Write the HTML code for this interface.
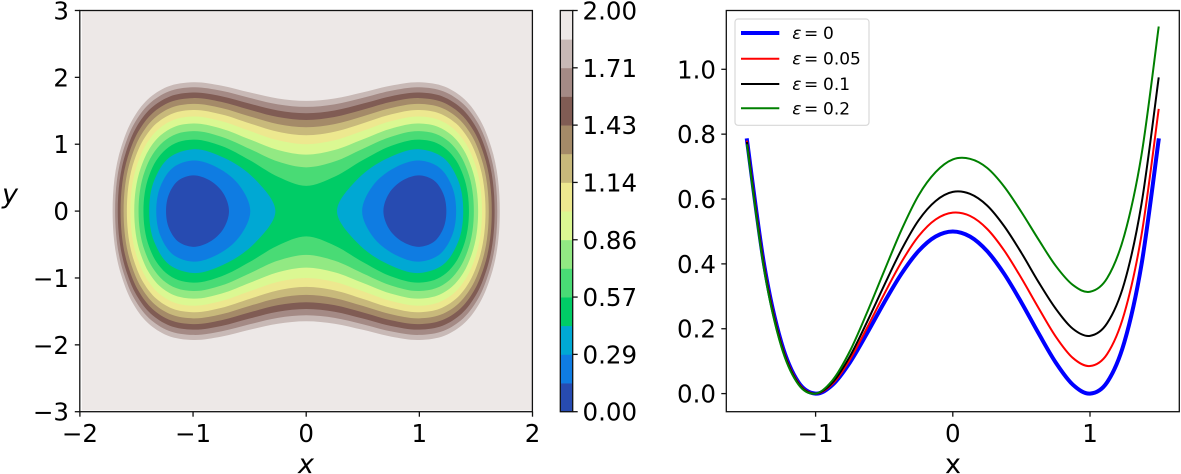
<!DOCTYPE html>
<html lang="en">
<head>
<meta charset="utf-8">
<title>Double-well potential contour and tilted profiles</title>
<style>
html,body{margin:0;padding:0;background:#fff;width:1181px;height:474px;overflow:hidden}
svg{display:block}
text{font-family:"DejaVu Sans","Liberation Sans",sans-serif;fill:#000}
</style>
</head>
<body>
<svg id="fig" xmlns="http://www.w3.org/2000/svg" width="1181" height="474" viewBox="0 0 1181 474">
  <defs>
    <clipPath id="contour-clip"><rect x="81.8" y="10.5" width="450" height="400"/></clipPath>
  </defs>
  <g id="contour-panel">
    <g id="contour-bands" clip-path="url(#contour-clip)"></g>
    <g id="left-ticks"></g>
    <rect x="79.8" y="10.5" width="452.6" height="401.2" fill="none" stroke="#111" stroke-width="1.3"/>
    <text x="306" y="473" font-size="27" font-style="italic" text-anchor="middle">x</text>
    <text x="10" y="203" font-size="27" font-style="italic" text-anchor="middle">y</text>
  </g>
  <g id="colorbar"></g>
  <g id="line-panel">
    <g id="line-series"></g>
    <g id="right-ticks"></g>
    <rect x="726.3" y="10.5" width="453" height="401.2" fill="none" stroke="#111" stroke-width="1.3"/>
    <text x="953" y="473" font-size="27" text-anchor="middle">x</text>
    <g id="legend">
      <rect x="735" y="19" width="134" height="106.3" rx="3" fill="#fff" fill-opacity="0.8" stroke="#d8d8d8" stroke-width="1.2"/>
      <g>
        <line x1="741" x2="779.3" y1="33" y2="33" stroke="#0000ff" stroke-width="4"/>
        <text x="792.3" y="39" font-size="17"><tspan font-style="italic">ε</tspan><tspan x="804">=</tspan><tspan x="823">0</tspan></text>
      </g>
      <g>
        <line x1="741" x2="779.3" y1="58.7" y2="58.7" stroke="#ff0000" stroke-width="2"/>
        <text x="792.3" y="64.7" font-size="17"><tspan font-style="italic">ε</tspan><tspan x="804">=</tspan><tspan x="823">0.05</tspan></text>
      </g>
      <g>
        <line x1="741" x2="779.3" y1="84" y2="84" stroke="#000" stroke-width="2"/>
        <text x="792.3" y="90" font-size="17"><tspan font-style="italic">ε</tspan><tspan x="804">=</tspan><tspan x="823">0.1</tspan></text>
      </g>
      <g>
        <line x1="741" x2="779.3" y1="108.3" y2="108.3" stroke="#008000" stroke-width="2"/>
        <text x="792.3" y="114.3" font-size="17"><tspan font-style="italic">ε</tspan><tspan x="804">=</tspan><tspan x="823">0.2</tspan></text>
      </g>
    </g>
  </g>
</svg>
<script>
// ---------- chart data ----------
const contourLevels = [0, 0.1429, 0.2857, 0.4286, 0.5714, 0.7143, 0.8571, 1, 1.1429, 1.2857, 1.4286, 1.5714, 1.7143, 1.8571, 2];
// Upper boundaries of the level sets in data units (right half, first quadrant).
// Island levels trace the right well; joined levels run from the x axis to the y axis.
const boundary1 = [[1.2387,0],[1.2095,0.2673],[1.1257,0.4629],[1,0.5345],[0.856,0.4629],[0.7329,0.2673],[0.6823,0]];
const boundary2 = [[1.3251,0],[1.2863,0.378],[1.1739,0.6546],[1,0.7559],[0.7887,0.6546],[0.5877,0.378],[0.4941,0]];
const boundary3 = [[1.3877,0],[1.3423,0.4629],[1.2095,0.8018],[1,0.9258],[0.7329,0.8018],[0.4452,0.4629],[0.2724,0]];
const boundary4 = [[1.4384,0],[1.3877,0.5345],[1.3251,0.7559],[1.2387,0.9258],[1.1299,1.0325],[1,1.069],[0.75,0.9754],[0.5,0.7618],[0.25,0.5138],[0,0.378]];
const boundary5 = [[1.4816,0],[1.4266,0.5976],[1.3583,0.8451],[1.264,1.0351],[1.1443,1.1545],[1,1.1952],[0.75,1.1123],[0.5,0.9306],[0.25,0.7414],[0,0.6547]];
const boundary6 = [[1.5196,0],[1.4608,0.6547],[1.3877,0.9258],[1.2864,1.1339],[1.1571,1.2647],[1,1.3093],[0.75,1.2341],[0.5,1.0732],[0.25,0.914],[0,0.8452]];
const boundary7 = [[1.5538,0],[1.4916,0.7071],[1.4142,1],[1.3066,1.2247],[1.1688,1.366],[1,1.4142],[0.75,1.3448],[0.5,1.199],[0.25,1.0588],[0,1]];
const boundary8 = [[1.5849,0],[1.5196,0.7559],[1.4384,1.0691],[1.3251,1.3093],[1.1795,1.4604],[1,1.5119],[0.75,1.4472],[0.5,1.3127],[0.25,1.1861],[0,1.1339]];
const boundary9 = [[1.6136,0],[1.5455,0.8018],[1.4608,1.1339],[1.3423,1.3887],[1.1895,1.5489],[1,1.6036],[0.75,1.5427],[0.5,1.4174],[0.25,1.301],[0,1.2536]];
const boundary10 = [[1.6402,0],[1.5697,0.8452],[1.4816,1.1952],[1.3584,1.4638],[1.199,1.6327],[1,1.6903],[0.75,1.6327],[0.5,1.5148],[0.25,1.4065],[0,1.3628]];
const boundary11 = [[1.6652,0],[1.5923,0.8864],[1.5012,1.2536],[1.3735,1.5353],[1.2078,1.7124],[1,1.7728],[0.75,1.718],[0.5,1.6064],[0.25,1.5047],[0,1.4639]];
const boundary12 = [[1.6887,0],[1.6135,0.9258],[1.5196,1.3093],[1.3877,1.6035],[1.2162,1.7885],[1,1.8516],[0.75,1.7992],[0.5,1.693],[0.25,1.5968],[0,1.5584]];
const boundary13 = [[1.7109,0],[1.6337,0.9636],[1.5371,1.3627],[1.4013,1.669],[1.2243,1.8615],[1,1.9272],[0.75,1.877],[0.5,1.7753],[0.25,1.6839],[0,1.6475]];
const islandBoundaries = [boundary1, boundary2, boundary3];
const joinedBoundaries = [boundary4, boundary5, boundary6, boundary7, boundary8, boundary9, boundary10, boundary11, boundary12, boundary13];

const contourXTicks = [-2, -1, 0, 1, 2];
const contourXLabels = ['−2', '−1', '0', '1', '2'];
const contourYTicks = [-3, -2, -1, 0, 1, 2, 3];
const contourYLabels = ['−3', '−2', '−1', '0', '1', '2', '3'];
const colorbarTicks = [0, 0.2857, 0.5714, 0.8571, 1.1429, 1.4286, 1.7143, 2];
const colorbarLabels = ['0.00', '0.29', '0.57', '0.86', '1.14', '1.43', '1.71', '2.00'];

const lineX = [-1.5,-1.375,-1.25,-1.125,-1,-0.875,-0.75,-0.625,-0.5,-0.375,-0.25,-0.125,0,0.125,0.25,0.375,0.5,0.625,0.75,0.875,1,1.125,1.25,1.375,1.5];
const seriesEps0 = [0.781,0.397,0.158,0.035,0,0.0275,0.096,0.186,0.281,0.369,0.4395,0.4845,0.5,0.4845,0.4395,0.369,0.281,0.186,0.096,0.0275,0,0.035,0.158,0.397,0.781];
const seriesEps005 = [0.777,0.393,0.154,0.033,0,0.031,0.105,0.203,0.307,0.405,0.485,0.537,0.558,0.548,0.508,0.441,0.356,0.264,0.176,0.11,0.085,0.122,0.247,0.488,0.875];
const seriesEps01 = [0.773,0.388,0.151,0.031,0,0.035,0.115,0.221,0.334,0.443,0.534,0.594,0.622,0.616,0.58,0.516,0.434,0.344,0.262,0.2,0.178,0.217,0.341,0.584,0.972];
const seriesEps02 = [0.766,0.381,0.145,0.028,0,0.042,0.131,0.25,0.378,0.504,0.611,0.683,0.722,0.724,0.696,0.638,0.56,0.475,0.394,0.335,0.314,0.356,0.488,0.735,1.129];
const lineXTicks = [-1, 0, 1];
const lineXLabels = ['−1', '0', '1'];
const lineYTicks = [0, 0.2, 0.4, 0.6, 0.8, 1];
const lineYLabels = ['0.0', '0.2', '0.4', '0.6', '0.8', '1.0'];

// ---------- scales ----------
const NS = 'http://www.w3.org/2000/svg';
const xL = v => 306.2 + v * 113.15;
const yL = v => 211.1 - v * 66.87;
const cbY = v => 411.7 - (v / 2) * 401.2;
const xR = v => 952.8 + v * 137.2;
const yR = v => 393.6 - v * 324.3;

function make(parent, tag, attrs, txt) {
  const el = document.createElementNS(NS, tag);
  for (const k in attrs) el.setAttribute(k, attrs[k]);
  if (txt !== undefined) el.textContent = txt;
  parent.appendChild(el);
  return el;
}

// terrain colormap
const terrainStops = [[0,0.2,0.2,0.6],[0.15,0,0.6,1],[0.25,0,0.8,0.4],[0.5,1,1,0.6],[0.75,0.5,0.36,0.33],[1,1,1,1]];
function terrain(t) {
  for (let i = 1; i < terrainStops.length; i++) {
    const a = terrainStops[i-1], b = terrainStops[i];
    if (t <= b[0]) {
      const f = (t - a[0]) / (b[0] - a[0]);
      const c = [1,2,3].map(j => Math.round(255 * (a[j] + (b[j] - a[j]) * f)));
      return 'rgb(' + c.join(',') + ')';
    }
  }
  return '#fff';
}
const zMin = contourLevels[0], zMax = contourLevels[contourLevels.length - 1];
function bandColor(i) {
  const mid = (contourLevels[i] + contourLevels[i + 1]) / 2;
  return terrain((mid - zMin) / (zMax - zMin));
}

// chord-length spline through pixel points (closed contour loops)
function smoothLoop(pts) {
  const n = pts.length;
  const at = i => pts[(i + n) % n];
  const dist = (a, b) => Math.hypot(b[0] - a[0], b[1] - a[1]);
  function tangent(i) {
    const a = at(i - 1), b = at(i), c = at(i + 1);
    const d0 = dist(a, b), d1 = dist(b, c);
    return [0, 1].map(j => ((b[j] - a[j]) / d0 * d1 + (c[j] - b[j]) / d1 * d0) / (d0 + d1));
  }
  let d = 'M' + pts[0][0].toFixed(2) + ' ' + pts[0][1].toFixed(2);
  for (let i = 0; i < n; i++) {
    const p1 = at(i), p2 = at(i + 1);
    const len = dist(p1, p2);
    const m1 = tangent(i), m2 = tangent(i + 1);
    d += 'C' + (p1[0] + m1[0] * len / 3).toFixed(2) + ' ' + (p1[1] + m1[1] * len / 3).toFixed(2) + ' '
       + (p2[0] - m2[0] * len / 3).toFixed(2) + ' ' + (p2[1] - m2[1] * len / 3).toFixed(2) + ' '
       + p2[0].toFixed(2) + ' ' + p2[1].toFixed(2);
  }
  return d + 'Z';
}

// uniform Catmull-Rom spline for evenly spaced line samples
function smoothLine(pts) {
  const n = pts.length;
  const at = i => pts[Math.max(0, Math.min(n - 1, i))];
  let d = 'M' + pts[0][0].toFixed(2) + ' ' + pts[0][1].toFixed(2);
  for (let i = 0; i < n - 1; i++) {
    const p0 = at(i - 1), p1 = at(i), p2 = at(i + 1), p3 = at(i + 2);
    d += 'C' + (p1[0] + (p2[0] - p0[0]) / 6).toFixed(2) + ' ' + (p1[1] + (p2[1] - p0[1]) / 6).toFixed(2) + ' '
       + (p2[0] - (p3[0] - p1[0]) / 6).toFixed(2) + ' ' + (p2[1] - (p3[1] - p1[1]) / 6).toFixed(2) + ' '
       + p2[0].toFixed(2) + ' ' + p2[1].toFixed(2);
  }
  return d;
}

// ---------- contour panel ----------
const bandsG = document.getElementById('contour-bands');
const bgBand = make(bandsG, 'rect', {x: xL(-2), y: yL(3), width: xL(2) - xL(-2), height: yL(-3) - yL(3), fill: bandColor(13)});



function joinedLoop(q) {
  const pts = [];
  q.forEach(p => pts.push([p[0], p[1]]));
  for (let i = q.length - 2; i >= 0; i--) pts.push([-q[i][0], q[i][1]]);
  for (let i = 1; i < q.length; i++) pts.push([-q[i][0], -q[i][1]]);
  for (let i = q.length - 2; i > 0; i--) pts.push([q[i][0], -q[i][1]]);
  return pts;
}
function islandLoop(q, side) {
  const pts = [];
  q.forEach(p => pts.push([side * p[0], p[1]]));
  for (let i = q.length - 2; i > 0; i--) pts.push([side * q[i][0], -q[i][1]]);
  return pts;
}
const toPx = p => [xL(p[0]), yL(p[1])];

// highest level first, nested fills going inward
for (let j = joinedBoundaries.length - 1; j >= 0; j--) {
  const bandIndex = j + 3;
  const path = make(bandsG, 'path', {d: smoothLoop(joinedLoop(joinedBoundaries[j]).map(toPx)), fill: bandColor(bandIndex)});
  
  
}
for (let j = islandBoundaries.length - 1; j >= 0; j--) {
  [-1, 1].forEach(side => {
    const path = make(bandsG, 'path', {d: smoothLoop(islandLoop(islandBoundaries[j], side).map(toPx)), fill: bandColor(j)});
    
    
  });
}

const TICK_FONT = 24.5;
const leftTicks = document.getElementById('left-ticks');
contourXTicks.forEach((v, i) => {
  const t = make(leftTicks, 'line', {x1: xL(v), x2: xL(v), y1: 411.7, y2: 416.7, stroke: '#111', 'stroke-width': 1.3});
  
  
  const l = make(leftTicks, 'text', {x: xL(v), y: 442, 'font-size': TICK_FONT, 'text-anchor': 'middle'}, contourXLabels[i]);
  
  
});
contourYTicks.forEach((v, i) => {
  const t = make(leftTicks, 'line', {x1: 74.8, x2: 79.8, y1: yL(v), y2: yL(v), stroke: '#111', 'stroke-width': 1.3});
  
  
  const l = make(leftTicks, 'text', {x: 69, y: yL(v) + 9, 'font-size': TICK_FONT, 'text-anchor': 'end'}, contourYLabels[i]);
  
  
});

// ---------- colorbar ----------
const cb = document.getElementById('colorbar');
for (let i = 0; i < contourLevels.length - 1; i++) {
  const top = cbY(contourLevels[i + 1]), bot = cbY(contourLevels[i]);
  const r = make(cb, 'rect', {x: 560.3, y: top, width: 12.4, height: bot - top + 0.4, fill: bandColor(i)});
  
  
}
const cbFrame = make(cb, 'rect', {x: 560.3, y: 10.5, width: 12.4, height: 401.2, fill: 'none', stroke: '#111', 'stroke-width': 1.3});


colorbarTicks.forEach((v, i) => {
  const t = make(cb, 'line', {x1: 572.7, x2: 577.7, y1: cbY(v), y2: cbY(v), stroke: '#111', 'stroke-width': 1.3});
  
  
  const l = make(cb, 'text', {x: 582.5, y: cbY(v) + 9, 'font-size': TICK_FONT}, colorbarLabels[i]);
  
  
});

// ---------- line panel ----------
const seriesG = document.getElementById('line-series');
function drawSeries(values, color, width, name) {
  const pts = values.map((v, i) => [xR(lineX[i]), yR(v)]);
  const p = make(seriesG, 'path', {d: smoothLine(pts), fill: 'none', stroke: color, 'stroke-width': width, 'stroke-linecap': 'square', 'stroke-linejoin': 'round'});
  
  
}
drawSeries(seriesEps0, '#0000ff', 4, 'line-eps-0');
drawSeries(seriesEps005, '#ff0000', 2, 'line-eps-0.05');
drawSeries(seriesEps01, '#000000', 2, 'line-eps-0.1');
drawSeries(seriesEps02, '#008000', 2, 'line-eps-0.2');

const rightTicks = document.getElementById('right-ticks');
lineXTicks.forEach((v, i) => {
  const t = make(rightTicks, 'line', {x1: xR(v), x2: xR(v), y1: 411.7, y2: 416.7, stroke: '#111', 'stroke-width': 1.3});
  
  
  const l = make(rightTicks, 'text', {x: xR(v), y: 442, 'font-size': TICK_FONT, 'text-anchor': 'middle'}, lineXLabels[i]);
  
  
});
lineYTicks.forEach((v, i) => {
  const t = make(rightTicks, 'line', {x1: 721.3, x2: 726.3, y1: yR(v), y2: yR(v), stroke: '#111', 'stroke-width': 1.3});
  
  
  const l = make(rightTicks, 'text', {x: 716, y: yR(v) + 9, 'font-size': TICK_FONT, 'text-anchor': 'end'}, lineYLabels[i]);
  
  
});
</script>
</body>
</html>
